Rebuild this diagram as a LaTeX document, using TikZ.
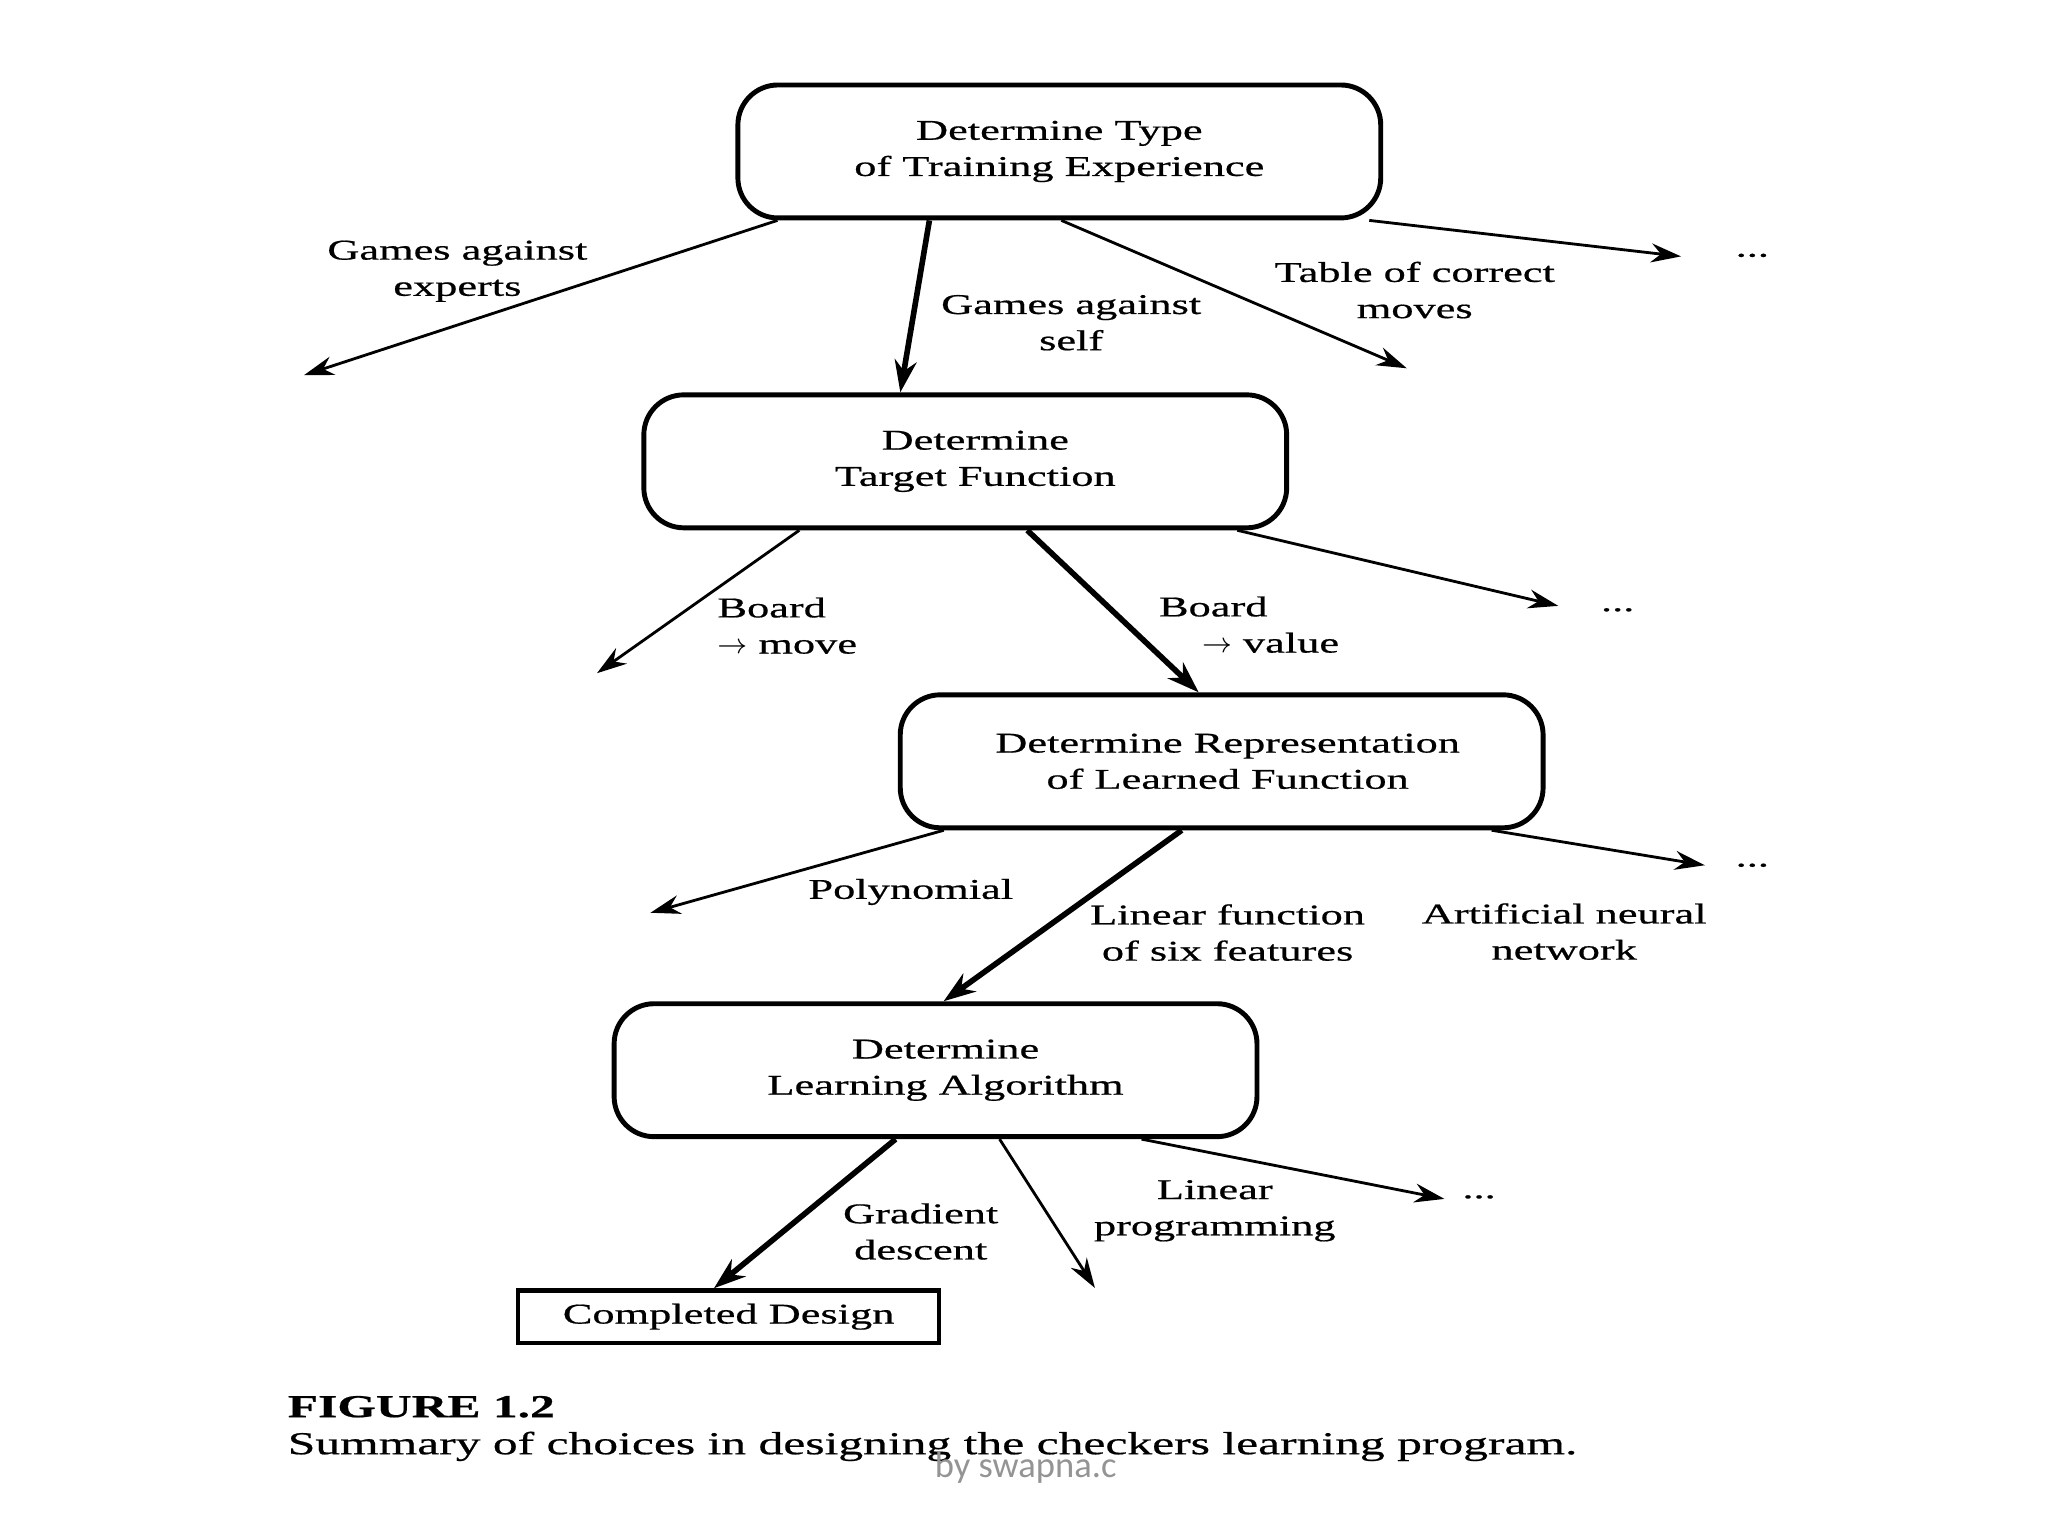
\documentclass[tikz,border=0pt]{standalone}
\usepackage{fontspec}
\setmainfont{Liberation Serif}[FakeStretch=1.55,FakeBold=0.6]
\newfontfamily\wmfont{Carlito}
\usetikzlibrary{arrows.meta,calc}
\newcommand\figlbl{\fontsize{8.15}{10.3}\selectfont}
\begin{document}
\begin{tikzpicture}[x=0.0099cm,y=-0.0099cm,
  box/.style={draw, line width=1.4pt, rounded corners=0.4cm, minimum width=6.43cm,
              minimum height=1.33cm, align=center, inner sep=0pt, font=\figlbl},
  endbox/.style={draw, line width=1.25pt, minimum width=4.21cm, minimum height=0.525cm,
              inner sep=0pt, font=\figlbl},
  lab/.style={align=center, inner sep=0pt, font=\figlbl},
  thin/.style={line width=0.8pt, -{Stealth[length=0.3cm,width=0.19cm]}},
  thick/.style={line width=1.6pt, -{Stealth[length=0.32cm,width=0.22cm]}}]
\useasboundingbox (0,0) rectangle (2068.69,1551.52);

% boxes
\node[box] (b1) at (1070,153) {Determine Type\\of Training Experience};
\node[box] (b2) at (975,466) {\hspace*{0.2cm}Determine\\\hspace*{0.2cm}Target Function};
\node[box] (b3) at (1234,769) {\hspace*{0.12cm}Determine Representation\\\hspace*{0.12cm}of Learned Function};
\node[box] (b4) at (945,1081) {\hspace*{0.2cm}Determine\\\hspace*{0.2cm}Learning Algorithm};
\node[endbox] (cd) at (736,1330) {Completed Design};

% free ends
\coordinate (e1) at (307,379);
\coordinate (e3) at (1421,372);
\coordinate (e4) at (1698,259);
\coordinate (f1) at (603,680);
\coordinate (f3) at (1574,612);
\coordinate (g1) at (657,922);
\coordinate (g3) at (1722,874);
\coordinate (h2) at (1106,1301);
\coordinate (h3) at (1459,1211);

% level 1
\draw[thin] ([xshift=0.42cm]b1.south west) -- (e1);
\draw[thick] ([xshift=1.94cm]b1.south west) -- ([xshift=2.59cm]b2.north west);
\draw[thin] ([xshift=3.26cm]b1.south west) -- (e3);
\draw[thin] ([xshift=6.34cm]b1.south west) -- (e4);
\node[lab] (l11) at (462,274) {Games against\\experts};
\node[lab] (l12) at (1082,326) {Games against\\self};
\node[lab] (l13) at (1429,293) {Table of correct\\moves};
\node[lab] (d1) at (1770,258) {...};

% level 2
\draw[thin] ([xshift=1.58cm]b2.south west) -- (f1);
\draw[thick] ([xshift=3.86cm]b2.south west) -- ([xshift=3.01cm]b3.north west);
\draw[thin] ([xshift=5.96cm]b2.south west) -- (f3);
\node[lab, anchor=west, align=left] (l21) at (724,632) {Board\\$\rightarrow$ move};
\node[lab, anchor=west, align=left] (l22) at (1170,631) {Board\\\hspace*{0.43cm}$\rightarrow$ value};
\node[lab] (d2) at (1634,616) {...};

% level 3
\draw[thin] ([xshift=0.46cm]b3.south west) -- (g1);
\draw[thick] ([xshift=2.84cm]b3.south west) -- ([xshift=3.32cm]b4.north west);
\draw[thin] ([xshift=5.94cm]b3.south west) -- (g3);
\node[lab] (l31) at (920,901) {Polynomial};
\node[lab] (l32) at (1240,942) {Linear function\\of six features};
\node[lab] (l33) at (1580,941) {Artificial neural\\network};
\node[lab] (d3) at (1770,874) {...};

% level 4
\draw[thick] ([xshift=2.84cm]b4.south west) -- ([xshift=1.98cm]cd.north west);
\draw[thin] ([xshift=3.88cm]b4.south west) -- (h2);
\draw[thin] ([xshift=5.30cm]b4.south west) -- (h3);
\node[lab] (l41) at (930,1244) {Gradient\\descent};
\node[lab] (l42) at (1227,1223) {Linear\\programming};
\node[lab] (d4) at (1494,1209) {...};

% caption
\node[anchor=west, inner sep=0pt, font=\fontsize{9.1}{11}\selectfont\bfseries] (cap1) at (290,1421) {FIGURE 1.2};
\node[anchor=west, inner sep=0pt, font=\fontsize{9.1}{11}\selectfont] (cap2) at (290,1461) {Summary of choices in designing the checkers learning program.};
\node[inner sep=0pt, text=black!42, font=\wmfont\fontsize{10.4}{12}\selectfont] (wm) at (1036,1483) {by swapna.c};
\end{tikzpicture}
\end{document}
